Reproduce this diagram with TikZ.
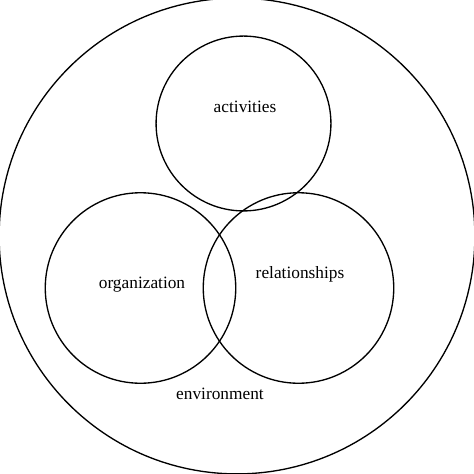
\documentclass[tikz,border=0pt]{standalone}
\usepackage{fontspec}
\setmainfont{Liberation Serif}
\usepackage{tikz}
\usepackage{xcolor}

\begin{document}
\begin{tikzpicture}[x=0.021097cm,y=-0.021097cm]
			
			\useasboundingbox (0,0) rectangle (474,474);
			\clip (0,0) rectangle (474,474);
			
			\node[circle,
			draw = black,
			line width = 0.8pt,
			inner sep = 0pt,
			outer sep = 0pt,
			minimum size = 10.04cm] (env) at (237,236) {};
			
			\node[circle,
			draw = black,
			line width = 0.8pt,
			inner sep = 0pt,
			outer sep = 0pt,
			minimum size = 3.69cm] (act) at (243.5,123.5) {};
			
			\node[circle,
			draw = black,
			line width = 0.8pt,
			inner sep = 0pt,
			outer sep = 0pt,
			minimum size = 4.02cm] (org) at (140.5,288) {};
			
			\node[circle,
			draw = black,
			line width = 0.8pt,
			inner sep = 0pt,
			outer sep = 0pt,
			minimum size = 4.02cm] (rel) at (298.5,288) {};
			
			
			\node[text = black,
			font = \fontsize{10.4}{12}\selectfont] (actlabel) at (245,107) {activities};
			
			\node[text = black,
			font = \fontsize{10.4}{12}\selectfont] (orglabel) at (142,285) {organization};
			
			\node[text = black,
			font = \fontsize{10.4}{12}\selectfont] (rellabel) at (300,274) {relationships};
			
			\node[text = black,
			font = \fontsize{10.4}{12}\selectfont] (envlabel) at (220,394) {environment};
			
		\end{tikzpicture}
\end{document}
